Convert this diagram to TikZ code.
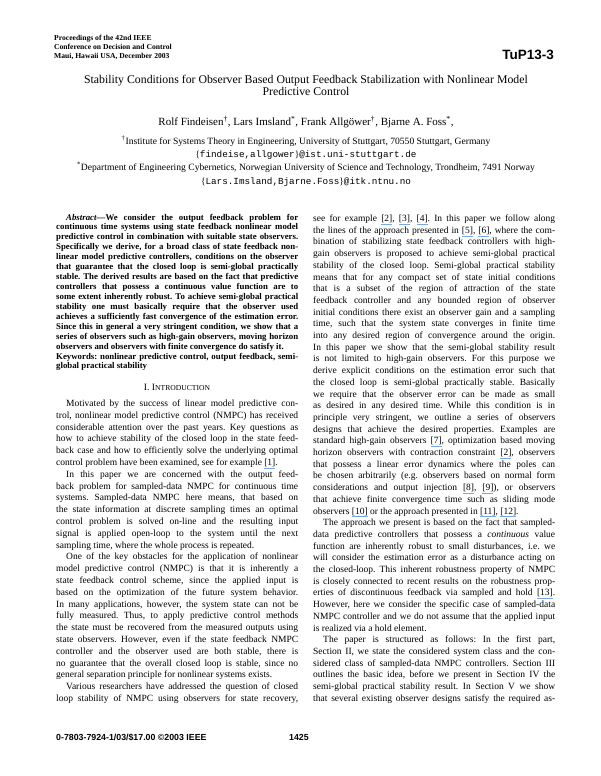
\documentclass[tikz,border=0pt]{standalone}
\usepackage{fontspec}
\setmainfont{Liberation Serif}
\newfontfamily\sansb{Liberation Sans}
\setmonofont{Liberation Mono}
\usepackage{xcolor}
\frenchspacing
\definecolor{linkblue}{RGB}{120,170,225}
\newcommand\ct[1]{{\color{linkblue}\underline{\color{black}[#1]}}}
\newcounter{ln}
\newlength\colw \setlength\colw{242pt}
\newlength\colwi \setlength\colwi{232pt}
\def\pitch{10.9}
\def\curfont{\fontsize{9.5}{11}\selectfont}
\newcommand\setY[1]{\xdef\yy{#1}}
\newcommand\adv{\pgfmathsetmacro\tmpy{\yy+\pitch}\xdef\yy{\tmpy}}
\newcommand\J[2]{\stepcounter{ln}\node[txt] (n\theln) at (#1,\yy) {\curfont\makebox[\colw][s]{#2}};\adv}
\newcommand\JI[2]{\stepcounter{ln}\node[txt] (n\theln) at (#1+10,\yy) {\curfont\makebox[\colwi][s]{#2}};\adv}
\newcommand\E[2]{\stepcounter{ln}\node[txt] (n\theln) at (#1,\yy) {\curfont #2};\adv}
\begin{document}
\begin{tikzpicture}[x=1pt,y=-1pt,
  txt/.style={anchor=base west,inner sep=0pt},
  ctr/.style={anchor=base,inner sep=0pt}]
\useasboundingbox[fill=white] (0,0) rectangle (600,776);
% header
\node[txt,font=\fontsize{7.6}{9}\selectfont\bfseries] (h1) at (54,41) {Proceedings of the 42nd IEEE};
\node[txt,font=\fontsize{7.6}{9}\selectfont\bfseries] (h2) at (54,50) {Conference on Decision and Control};
\node[txt,font=\fontsize{7.6}{9}\selectfont\bfseries] (h3) at (54,58.5) {Maui, Hawaii USA, December 2003};
\node[anchor=base east,inner sep=0pt,font=\fontsize{13.5}{15}\sansb\bfseries] (tup) at (554,59.5) {TuP13-3};
% title
\node[ctr,font=\fontsize{11.8}{13}\selectfont] (t1) at (306,84) {Stability Conditions for Observer Based Output Feedback Stabilization with Nonlinear Model};
\node[ctr,font=\fontsize{11.8}{13}\selectfont] (t2) at (306,95.5) {Predictive Control};
\node[ctr,font=\fontsize{11}{13}\selectfont] (au) at (306,125.5) {Rolf Findeisen\textsuperscript{\dag}, Lars Imsland\textsuperscript{*}, Frank Allgöwer\textsuperscript{\dag}, Bjarne A. Foss\textsuperscript{*},};
\node[ctr,font=\fontsize{9.6}{11}\selectfont] (a1) at (306,144) {\textsuperscript{\dag}Institute for Systems Theory in Engineering, University of Stuttgart, 70550 Stuttgart, Germany};
\node[ctr,font=\fontsize{9.3}{11}\selectfont] (e1) at (306,157.5) {\{\texttt{findeise,allgower}\}\texttt{@ist.uni-stuttgart.de}};
\node[ctr,font=\fontsize{9.6}{11}\selectfont] (a2) at (306,170.5) {\textsuperscript{*}Department of Engineering Cybernetics, Norwegian University of Science and Technology, Trondheim, 7491 Norway};
\node[ctr,font=\fontsize{9.3}{11}\selectfont] (e2) at (306,184) {\{\texttt{Lars.Imsland,Bjarne.Foss}\}\texttt{@itk.ntnu.no}};
% abstract
\def\curfont{\fontsize{8.8}{10}\selectfont\bfseries}
\def\pitch{9.93}
\setY{220}
\JI{56}{\textit{Abstract}---We consider the output feedback problem for}
\J{56}{continuous time systems using state feedback nonlinear model}
\J{56}{predictive control in combination with suitable state observers.}
\J{56}{Specifically we derive, for a broad class of state feedback non-}
\J{56}{linear model predictive controllers, conditions on the observer}
\J{56}{that guarantee that the closed loop is semi-global practically}
\J{56}{stable. The derived results are based on the fact that predictive}
\J{56}{controllers that possess a continuous value function are to}
\J{56}{some extent inherently robust. To achieve semi-global practical}
\J{56}{stability one must basically require that the observer used}
\J{56}{achieves a sufficiently fast convergence of the estimation error.}
\J{56}{Since this in general a very stringent condition, we show that a}
\J{56}{series of observers such as high-gain observers, moving horizon}
\E{56}{observers and observers with finite convergence do satisfy it.}
\J{56}{Keywords: nonlinear predictive control, output feedback, semi-}
\E{56}{global practical stability}
\node[ctr,font=\fontsize{9.6}{11}\selectfont] (sec1) at (177,390.5) {I. I{\fontsize{7.6}{9}\selectfont NTRODUCTION}};
% left body
\def\curfont{\fontsize{9.5}{11}\selectfont}
\def\pitch{11.8}
\setY{406.5}
\JI{56}{Motivated by the success of linear model predictive con-}
\J{56}{trol, nonlinear model predictive control (NMPC) has received}
\J{56}{considerable attention over the past years. Key questions as}
\J{56}{how to achieve stability of the closed loop in the state feed-}
\J{56}{back case and how to efficiently solve the underlying optimal}
\E{56}{control problem have been examined, see for example \ct{1}.}
\JI{56}{In this paper we are concerned with the output feed-}
\J{56}{back problem for sampled-data NMPC for continuous time}
\J{56}{systems. Sampled-data NMPC here means, that based on}
\J{56}{the state information at discrete sampling times an optimal}
\J{56}{control problem is solved on-line and the resulting input}
\J{56}{signal is applied open-loop to the system until the next}
\E{56}{sampling time, where the whole process is repeated.}
\JI{56}{One of the key obstacles for the application of nonlinear}
\J{56}{model predictive control (NMPC) is that it is inherently a}
\J{56}{state feedback control scheme, since the applied input is}
\J{56}{based on the optimization of the future system behavior.}
\J{56}{In many applications, however, the system state can not be}
\J{56}{fully measured. Thus, to apply predictive control methods}
\J{56}{the state must be recovered from the measured outputs using}
\J{56}{state observers. However, even if the state feedback NMPC}
\J{56}{controller and the observer used are both stable, there is}
\J{56}{no guarantee that the overall closed loop is stable, since no}
\E{56}{general separation principle for nonlinear systems exists.}
\JI{56}{Various researchers have addressed the question of closed}
\J{56}{loop stability of NMPC using observers for state recovery,}
% right column
\def\pitch{11.7}
\setY{221.5}
\J{313}{see for example \ct{2}, \ct{3}, \ct{4}. In this paper we follow along}
\J{313}{the lines of the approach presented in \ct{5}, \ct{6}, where the com-}
\J{313}{bination of stabilizing state feedback controllers with high-}
\J{313}{gain observers is proposed to achieve semi-global practical}
\J{313}{stability of the closed loop. Semi-global practical stability}
\J{313}{means that for any compact set of state initial conditions}
\J{313}{that is a subset of the region of attraction of the state}
\J{313}{feedback controller and any bounded region of observer}
\J{313}{initial conditions there exist an observer gain and a sampling}
\J{313}{time, such that the system state converges in finite time}
\J{313}{into any desired region of convergence around the origin.}
\J{313}{In this paper we show that the semi-global stability result}
\J{313}{is not limited to high-gain observers. For this purpose we}
\J{313}{derive explicit conditions on the estimation error such that}
\J{313}{the closed loop is semi-global practically stable. Basically}
\J{313}{we require that the observer error can be made as small}
\J{313}{as desired in any desired time. While this condition is in}
\J{313}{principle very stringent, we outline a series of observers}
\J{313}{designs that achieve the desired properties. Examples are}
\J{313}{standard high-gain observers \ct{7}, optimization based moving}
\J{313}{horizon observers with contraction constraint \ct{2}, observers}
\J{313}{that possess a linear error dynamics where the poles can}
\J{313}{be chosen arbitrarily (e.g. observers based on normal form}
\J{313}{considerations and output injection \ct{8}, \ct{9}), or observers}
\J{313}{that achieve finite convergence time such as sliding mode}
\E{313}{observers \ct{10} or the approach presented in \ct{11}, \ct{12}.}
\JI{313}{The approach we present is based on the fact that sampled-}
\J{313}{data predictive controllers that possess a \textit{continuous} value}
\J{313}{function are inherently robust to small disturbances, i.e. we}
\J{313}{will consider the estimation error as a disturbance acting on}
\J{313}{the closed-loop. This inherent robustness property of NMPC}
\J{313}{is closely connected to recent results on the robustness prop-}
\J{313}{erties of discontinuous feedback via sampled and hold \ct{13}.}
\J{313}{However, here we consider the specific case of sampled-data}
\J{313}{NMPC controller and we do not assume that the applied input}
\E{313}{is realized via a hold element.}
\JI{313}{The paper is structured as follows: In the first part,}
\J{313}{Section II, we state the considered system class and the con-}
\J{313}{sidered class of sampled-data NMPC controllers. Section III}
\J{313}{outlines the basic idea, before we present in Section IV the}
\J{313}{semi-global practical stability result. In Section V we show}
\J{313}{that several existing observer designs satisfy the required as-}
% footer
\node[txt,font=\fontsize{8.8}{10}\sansb\bfseries] (f1) at (56,740) {0-7803-7924-1/03/\$17.00 ©2003 IEEE};
\node[txt,font=\fontsize{8.8}{10}\sansb\bfseries] (f2) at (289,740) {1425};
\end{tikzpicture}
\end{document}
